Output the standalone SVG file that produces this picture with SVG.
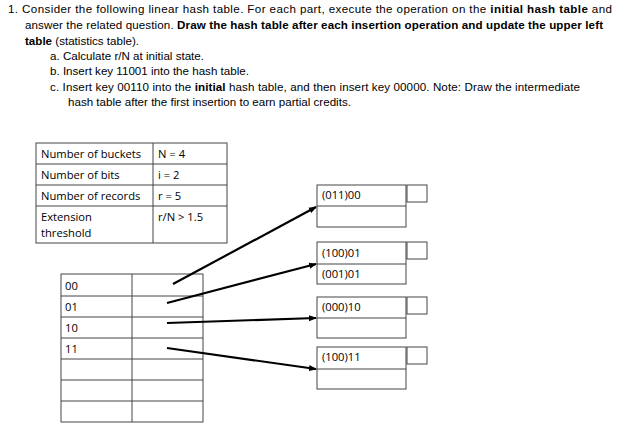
<svg xmlns="http://www.w3.org/2000/svg" width="633" height="437" viewBox="0 0 633 437">
<defs><style>
.t{font-family:"Liberation Sans",Arial,sans-serif;font-size:11.6px;fill:#000}
.c{font-family:"Open Sans","Liberation Sans",sans-serif;font-size:11.2px;fill:#000}
.b{font-weight:bold}
rect.k,line.g{fill:none;stroke:#444;stroke-width:1}
.a{stroke:#000;stroke-width:2.2;fill:none}
</style>
<marker id="ah" markerWidth="8" markerHeight="8" refX="7" refY="4" orient="auto" markerUnits="userSpaceOnUse"><path d="M0,1 L8,4 L0,7 Z" fill="#000"/></marker></defs>
<rect x="0" y="0" width="633" height="437" fill="#fff"/>
<g id="question">
<text class="t" x="8" y="13" textLength="604" lengthAdjust="spacing">1.  Consider the following linear hash table. For each part, execute the operation on the <tspan class="b">initial hash table</tspan> and</text>
<text class="t" x="25" y="29" textLength="578" lengthAdjust="spacing">answer the related question. <tspan class="b">Draw the hash table after each insertion operation and update the upper left</tspan></text>
<text class="t" x="25" y="45"><tspan class="b">table</tspan> (statistics table).</text>
<text class="t" x="50" y="60">a.  Calculate r/N at initial state.</text>
<text class="t" x="50" y="75">b.  Insert key 11001 into the hash table.</text>
<text class="t" x="50" y="91" textLength="530" lengthAdjust="spacing">c.  Insert key 00110 into the <tspan class="b">initial</tspan> hash table, and then insert key 00000. Note: Draw the intermediate</text>
<text class="t" x="68" y="106">hash table after the first insertion to earn partial credits.</text>
</g>
<g id="stats">
<rect class="k" x="36" y="143" width="191" height="100"/>
<line class="g" x1="153" y1="143" x2="153" y2="243"/>
<line class="g" x1="36" y1="164" x2="227" y2="164"/>
<line class="g" x1="36" y1="185" x2="227" y2="185"/>
<line class="g" x1="36" y1="206" x2="227" y2="206"/>
<text class="c" x="41" y="158">Number of buckets</text><text class="c" x="158" y="158">N = 4</text>
<text class="c" x="41" y="179">Number of bits</text><text class="c" x="158" y="179">i = 2</text>
<text class="c" x="41" y="200">Number of records</text><text class="c" x="158" y="200">r = 5</text>
<text class="c" x="41" y="221">Extension</text><text class="c" x="158" y="221">r/N &gt; 1.5</text>
<text class="c" x="41" y="237">threshold</text>
</g>
<g id="hashtable">
<rect class="k" x="61" y="274" width="142" height="148"/>
<line class="g" x1="132" y1="274" x2="132" y2="422"/>
<line class="g" x1="61" y1="296" x2="203" y2="296"/>
<line class="g" x1="61" y1="317" x2="203" y2="317"/>
<line class="g" x1="61" y1="338" x2="203" y2="338"/>
<line class="g" x1="61" y1="359" x2="203" y2="359"/>
<line class="g" x1="61" y1="380" x2="203" y2="380"/>
<line class="g" x1="61" y1="401" x2="203" y2="401"/>
<text class="c" x="65" y="290">00</text>
<text class="c" x="65" y="311">01</text>
<text class="c" x="65" y="332">10</text>
<text class="c" x="65" y="353">11</text>
</g>
<g id="bucket0">
<rect class="k" x="317" y="185" width="89" height="42"/><line class="g" x1="317" y1="206" x2="406" y2="206"/>
<rect class="k" x="407" y="185" width="20" height="17"/>
<text class="c" x="322" y="199">(011)00</text>
</g>
<g id="bucket1">
<rect class="k" x="317" y="242" width="89" height="42"/><line class="g" x1="317" y1="264" x2="406" y2="264"/>
<rect class="k" x="407" y="242" width="20" height="17"/>
<text class="c" x="322" y="257">(100)01</text>
<text class="c" x="322" y="278">(001)01</text>
</g>
<g id="bucket2">
<rect class="k" x="317" y="297" width="89" height="41"/><line class="g" x1="317" y1="318" x2="406" y2="318"/>
<rect class="k" x="407" y="297" width="20" height="17"/>
<text class="c" x="322" y="311">(000)10</text>
</g>
<g id="bucket3">
<rect class="k" x="317" y="347" width="89" height="42"/><line class="g" x1="317" y1="369" x2="406" y2="369"/>
<rect class="k" x="407" y="347" width="20" height="17"/>
<text class="c" x="322" y="361">(100)11</text>
</g>
<g id="connectors">
<line class="a" x1="173" y1="284" x2="316" y2="207" marker-end="url(#ah)"/>
<line class="a" x1="167" y1="303" x2="316" y2="264" marker-end="url(#ah)"/>
<line class="a" x1="167" y1="323" x2="316" y2="318" marker-end="url(#ah)"/>
<line class="a" x1="167" y1="348" x2="316" y2="369" marker-end="url(#ah)"/>
</g>
</svg>
